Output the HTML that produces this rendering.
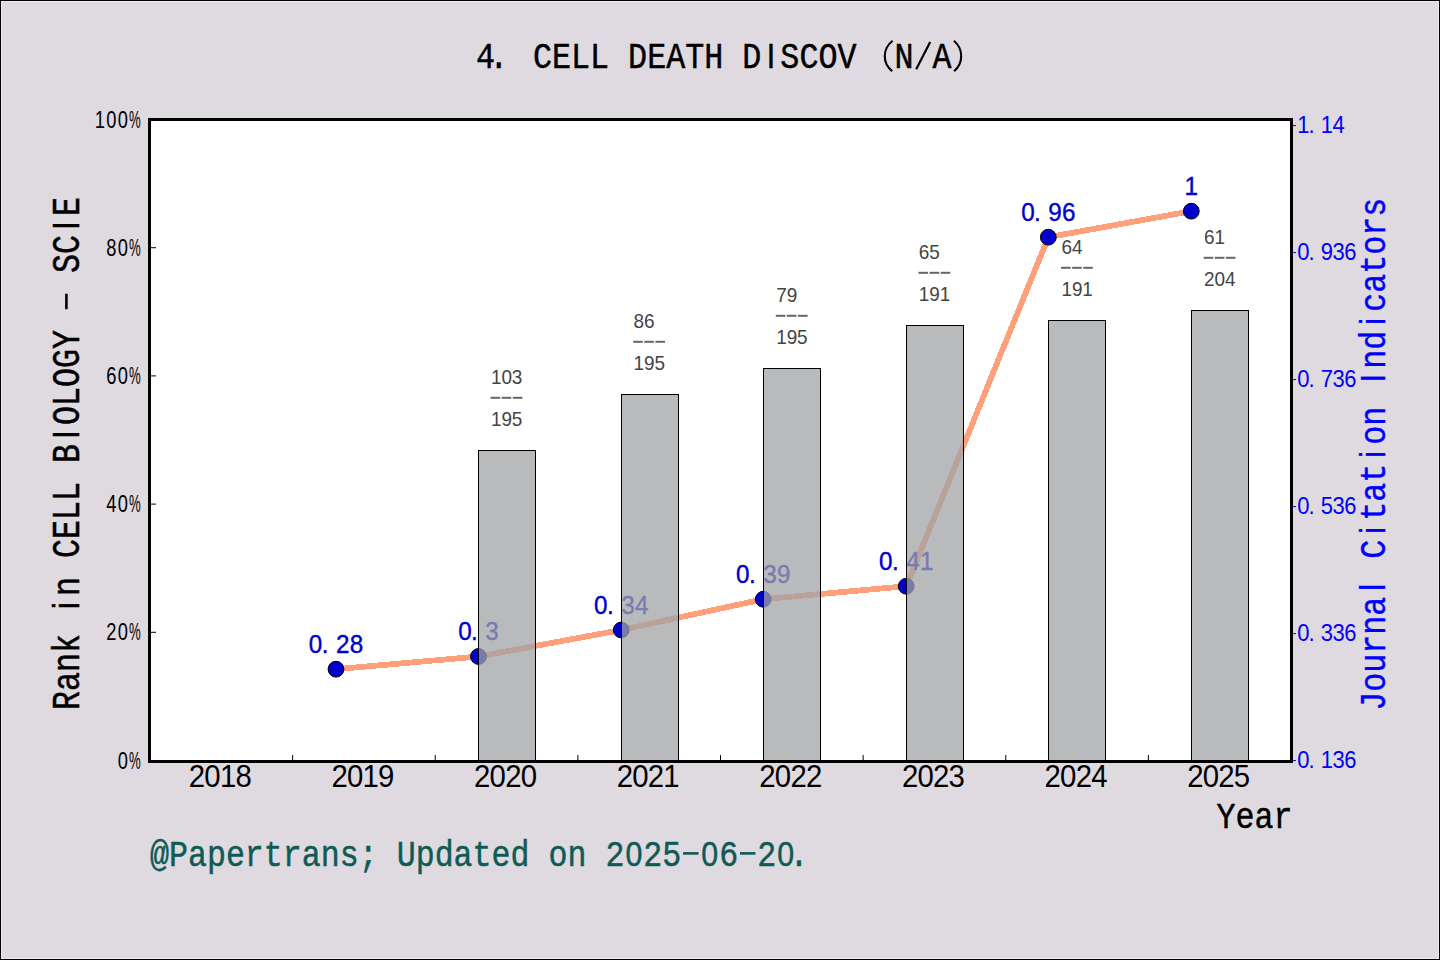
<!DOCTYPE html><html><head><meta charset="utf-8"><style>html,body{margin:0;padding:0;background:#dfdae0;}svg{display:block;}text{font-family:"Liberation Sans", sans-serif;}</style></head><body>
<svg width="1440" height="960" viewBox="0 0 1440 960">
<rect x="0" y="0" width="1440" height="960" fill="#dfdae0"/>
<rect x="0.5" y="0.5" width="1439" height="959" fill="none" stroke="#000" stroke-width="1"/>
<rect x="1.5" y="1.5" width="1437" height="957" fill="none" stroke="#ece8ee" stroke-width="1"/>
<g transform="translate(475.90,68.30) scale(0.8544,1)">
<text x="11.14 26.73 77.95 100.23 122.50 144.77 189.32 211.59 233.86 256.14 278.41 322.95 367.50 389.77 412.05 434.32 501.14 545.68" y="0" font-size="37.12" fill="#000" text-anchor="middle" style="font-family:&quot;Liberation Mono&quot;" stroke="#000" stroke-width="0.50" >4.CELLDEATHDSCOVNA</text>
<text x="345.23" y="0" font-size="35.64" fill="#000" text-anchor="middle" style="font-family:&quot;Liberation Sans&quot;" stroke="#000" stroke-width="0.50" >I</text>
</g>
<path d="M 916.2 69.3 L 930.2 42.0" fill="none" stroke="#000" stroke-width="2.2"/>
<path d="M 892.6 40.8 C 882.2 49 882.2 63 892.2 71.2" fill="none" stroke="#000" stroke-width="2.1"/>
<path d="M 953.9 40.8 C 963.6 49 963.6 63 954.1 71.2" fill="none" stroke="#000" stroke-width="2.1"/>
<rect x="148" y="118" width="1145" height="645" fill="#fff"/>
<polyline points="336.00,669.20 478.50,656.50 621.25,630.00 763.25,599.25 906.25,586.25 1048.30,237.20 1191.30,211.20" fill="none" stroke="#ffa07a" stroke-width="5.8" stroke-linejoin="round" stroke-linecap="round" shape-rendering="crispEdges"/>
<circle cx="336.00" cy="669.20" r="7.9" fill="#0000cc" stroke="#000" stroke-width="1"/>
<circle cx="478.50" cy="656.50" r="7.9" fill="#0000cc" stroke="#000" stroke-width="1"/>
<circle cx="621.25" cy="630.00" r="7.9" fill="#0000cc" stroke="#000" stroke-width="1"/>
<circle cx="763.25" cy="599.25" r="7.9" fill="#0000cc" stroke="#000" stroke-width="1"/>
<circle cx="906.25" cy="586.25" r="7.9" fill="#0000cc" stroke="#000" stroke-width="1"/>
<circle cx="1048.30" cy="237.20" r="7.9" fill="#0000cc" stroke="#000" stroke-width="1"/>
<circle cx="1191.30" cy="211.20" r="7.9" fill="#0000cc" stroke="#000" stroke-width="1"/>
<g transform="translate(308.80,653.10) scale(0.9200,1)">
<text x="7.39 17.74 36.96 51.74" y="0" font-size="26.40" fill="#0000cc" text-anchor="middle" stroke="#0000cc" stroke-width="0.40" >0.28</text>
</g>
<g transform="translate(458.10,640.40) scale(0.9200,1)">
<text x="7.39 17.74 36.96" y="0" font-size="26.40" fill="#0000cc" text-anchor="middle" stroke="#0000cc" stroke-width="0.40" >0.3</text>
</g>
<g transform="translate(594.05,613.90) scale(0.9200,1)">
<text x="7.39 17.74 36.96 51.74" y="0" font-size="26.40" fill="#0000cc" text-anchor="middle" stroke="#0000cc" stroke-width="0.40" >0.34</text>
</g>
<g transform="translate(736.05,583.15) scale(0.9200,1)">
<text x="7.39 17.74 36.96 51.74" y="0" font-size="26.40" fill="#0000cc" text-anchor="middle" stroke="#0000cc" stroke-width="0.40" >0.39</text>
</g>
<g transform="translate(879.05,570.15) scale(0.9200,1)">
<text x="7.39 17.74 36.96 51.74" y="0" font-size="26.40" fill="#0000cc" text-anchor="middle" stroke="#0000cc" stroke-width="0.40" >0.41</text>
</g>
<g transform="translate(1021.10,221.10) scale(0.9200,1)">
<text x="7.39 17.74 36.96 51.74" y="0" font-size="26.40" fill="#0000cc" text-anchor="middle" stroke="#0000cc" stroke-width="0.40" >0.96</text>
</g>
<g transform="translate(1184.50,195.10) scale(0.9200,1)">
<text x="7.39" y="0" font-size="26.40" fill="#0000cc" text-anchor="middle" stroke="#0000cc" stroke-width="0.40" >1</text>
</g>
<rect x="478.50" y="450.50" width="57" height="310.00" fill="rgb(162,163,166)" fill-opacity="0.75" stroke="#000" stroke-width="1"/>
<rect x="621.50" y="394.50" width="57" height="366.00" fill="rgb(162,163,166)" fill-opacity="0.75" stroke="#000" stroke-width="1"/>
<rect x="763.50" y="368.50" width="57" height="392.00" fill="rgb(162,163,166)" fill-opacity="0.75" stroke="#000" stroke-width="1"/>
<rect x="906.50" y="325.50" width="57" height="435.00" fill="rgb(162,163,166)" fill-opacity="0.75" stroke="#000" stroke-width="1"/>
<rect x="1048.50" y="320.50" width="57" height="440.00" fill="rgb(162,163,166)" fill-opacity="0.75" stroke="#000" stroke-width="1"/>
<rect x="1191.50" y="310.50" width="57" height="450.00" fill="rgb(162,163,166)" fill-opacity="0.75" stroke="#000" stroke-width="1"/>
<g transform="translate(491.06,384.00) scale(0.9200,1)">
<text x="5.65 16.96 28.26" y="0" font-size="20.60" fill="#444" text-anchor="middle" >103</text>
</g>
<rect x="490.56" y="396.80" width="9.6" height="2" fill="#666"/>
<rect x="501.66" y="396.80" width="9.6" height="2" fill="#666"/>
<rect x="512.76" y="396.80" width="9.6" height="2" fill="#666"/>
<g transform="translate(491.06,426.00) scale(0.9200,1)">
<text x="5.65 16.96 28.26" y="0" font-size="20.60" fill="#444" text-anchor="middle" >195</text>
</g>
<g transform="translate(633.69,328.00) scale(0.9200,1)">
<text x="5.65 16.96" y="0" font-size="20.60" fill="#444" text-anchor="middle" >86</text>
</g>
<rect x="633.19" y="340.80" width="9.6" height="2" fill="#666"/>
<rect x="644.29" y="340.80" width="9.6" height="2" fill="#666"/>
<rect x="655.39" y="340.80" width="9.6" height="2" fill="#666"/>
<g transform="translate(633.69,370.00) scale(0.9200,1)">
<text x="5.65 16.96 28.26" y="0" font-size="20.60" fill="#444" text-anchor="middle" >195</text>
</g>
<g transform="translate(776.31,302.00) scale(0.9200,1)">
<text x="5.65 16.96" y="0" font-size="20.60" fill="#444" text-anchor="middle" >79</text>
</g>
<rect x="775.81" y="314.80" width="9.6" height="2" fill="#666"/>
<rect x="786.91" y="314.80" width="9.6" height="2" fill="#666"/>
<rect x="798.01" y="314.80" width="9.6" height="2" fill="#666"/>
<g transform="translate(776.31,344.00) scale(0.9200,1)">
<text x="5.65 16.96 28.26" y="0" font-size="20.60" fill="#444" text-anchor="middle" >195</text>
</g>
<g transform="translate(918.94,259.00) scale(0.9200,1)">
<text x="5.65 16.96" y="0" font-size="20.60" fill="#444" text-anchor="middle" >65</text>
</g>
<rect x="918.44" y="271.80" width="9.6" height="2" fill="#666"/>
<rect x="929.54" y="271.80" width="9.6" height="2" fill="#666"/>
<rect x="940.64" y="271.80" width="9.6" height="2" fill="#666"/>
<g transform="translate(918.94,301.00) scale(0.9200,1)">
<text x="5.65 16.96 28.26" y="0" font-size="20.60" fill="#444" text-anchor="middle" >191</text>
</g>
<g transform="translate(1061.56,254.00) scale(0.9200,1)">
<text x="5.65 16.96" y="0" font-size="20.60" fill="#444" text-anchor="middle" >64</text>
</g>
<rect x="1061.06" y="266.80" width="9.6" height="2" fill="#666"/>
<rect x="1072.16" y="266.80" width="9.6" height="2" fill="#666"/>
<rect x="1083.26" y="266.80" width="9.6" height="2" fill="#666"/>
<g transform="translate(1061.56,296.00) scale(0.9200,1)">
<text x="5.65 16.96 28.26" y="0" font-size="20.60" fill="#444" text-anchor="middle" >191</text>
</g>
<g transform="translate(1204.19,244.00) scale(0.9200,1)">
<text x="5.65 16.96" y="0" font-size="20.60" fill="#444" text-anchor="middle" >61</text>
</g>
<rect x="1203.69" y="256.80" width="9.6" height="2" fill="#666"/>
<rect x="1214.79" y="256.80" width="9.6" height="2" fill="#666"/>
<rect x="1225.89" y="256.80" width="9.6" height="2" fill="#666"/>
<g transform="translate(1204.19,286.00) scale(0.9200,1)">
<text x="5.65 16.96 28.26" y="0" font-size="20.60" fill="#444" text-anchor="middle" >204</text>
</g>
<rect x="149.5" y="119.5" width="1142" height="642" fill="none" stroke="#000" stroke-width="3"/>
<rect x="151" y="760.00" width="5" height="1" fill="#000"/>
<g transform="translate(117.00,768.50) scale(0.7800,1)">
<text x="7.37" y="0" font-size="23.50" fill="#000" text-anchor="middle" >0</text>
</g>
<g transform="translate(129.10,768.50) scale(0.5600,1)">
<text x="10.27" y="0" font-size="23.50" fill="#000" text-anchor="middle" >%</text>
</g>
<rect x="151" y="631.80" width="5" height="1" fill="#000"/>
<g transform="translate(105.50,640.30) scale(0.7800,1)">
<text x="7.37 22.12" y="0" font-size="23.50" fill="#000" text-anchor="middle" >20</text>
</g>
<g transform="translate(129.10,640.30) scale(0.5600,1)">
<text x="10.27" y="0" font-size="23.50" fill="#000" text-anchor="middle" >%</text>
</g>
<rect x="151" y="503.60" width="5" height="1" fill="#000"/>
<g transform="translate(105.50,512.10) scale(0.7800,1)">
<text x="7.37 22.12" y="0" font-size="23.50" fill="#000" text-anchor="middle" >40</text>
</g>
<g transform="translate(129.10,512.10) scale(0.5600,1)">
<text x="10.27" y="0" font-size="23.50" fill="#000" text-anchor="middle" >%</text>
</g>
<rect x="151" y="375.40" width="5" height="1" fill="#000"/>
<g transform="translate(105.50,383.90) scale(0.7800,1)">
<text x="7.37 22.12" y="0" font-size="23.50" fill="#000" text-anchor="middle" >60</text>
</g>
<g transform="translate(129.10,383.90) scale(0.5600,1)">
<text x="10.27" y="0" font-size="23.50" fill="#000" text-anchor="middle" >%</text>
</g>
<rect x="151" y="247.20" width="5" height="1" fill="#000"/>
<g transform="translate(105.50,255.70) scale(0.7800,1)">
<text x="7.37 22.12" y="0" font-size="23.50" fill="#000" text-anchor="middle" >80</text>
</g>
<g transform="translate(129.10,255.70) scale(0.5600,1)">
<text x="10.27" y="0" font-size="23.50" fill="#000" text-anchor="middle" >%</text>
</g>
<rect x="151" y="119.00" width="5" height="1" fill="#000"/>
<g transform="translate(94.00,127.50) scale(0.7800,1)">
<text x="7.37 22.12 36.86" y="0" font-size="23.50" fill="#000" text-anchor="middle" >100</text>
</g>
<g transform="translate(129.10,127.50) scale(0.5600,1)">
<text x="10.27" y="0" font-size="23.50" fill="#000" text-anchor="middle" >%</text>
</g>
<rect x="292.12" y="755" width="1" height="5" fill="#000"/>
<rect x="434.75" y="755" width="1" height="5" fill="#000"/>
<rect x="577.38" y="755" width="1" height="5" fill="#000"/>
<rect x="720.00" y="755" width="1" height="5" fill="#000"/>
<rect x="862.62" y="755" width="1" height="5" fill="#000"/>
<rect x="1005.25" y="755" width="1" height="5" fill="#000"/>
<rect x="1147.88" y="755" width="1" height="5" fill="#000"/>
<g transform="translate(189.21,786.80) scale(0.9600,1)">
<text x="8.10 24.30 40.49 56.69" y="0" font-size="30.60" fill="#000" text-anchor="middle" >2018</text>
</g>
<g transform="translate(331.84,786.80) scale(0.9600,1)">
<text x="8.10 24.30 40.49 56.69" y="0" font-size="30.60" fill="#000" text-anchor="middle" >2019</text>
</g>
<g transform="translate(474.46,786.80) scale(0.9600,1)">
<text x="8.10 24.30 40.49 56.69" y="0" font-size="30.60" fill="#000" text-anchor="middle" >2020</text>
</g>
<g transform="translate(617.09,786.80) scale(0.9600,1)">
<text x="8.10 24.30 40.49 56.69" y="0" font-size="30.60" fill="#000" text-anchor="middle" >2021</text>
</g>
<g transform="translate(759.71,786.80) scale(0.9600,1)">
<text x="8.10 24.30 40.49 56.69" y="0" font-size="30.60" fill="#000" text-anchor="middle" >2022</text>
</g>
<g transform="translate(902.34,786.80) scale(0.9600,1)">
<text x="8.10 24.30 40.49 56.69" y="0" font-size="30.60" fill="#000" text-anchor="middle" >2023</text>
</g>
<g transform="translate(1044.96,786.80) scale(0.9600,1)">
<text x="8.10 24.30 40.49 56.69" y="0" font-size="30.60" fill="#000" text-anchor="middle" >2024</text>
</g>
<g transform="translate(1187.59,786.80) scale(0.9600,1)">
<text x="8.10 24.30 40.49 56.69" y="0" font-size="30.60" fill="#000" text-anchor="middle" >2025</text>
</g>
<rect x="1293" y="760.10" width="3" height="1" fill="#0000ff"/>
<g transform="translate(1297.60,768.00) scale(0.9200,1)">
<text x="6.36 15.26 31.79 44.51 57.23" y="0" font-size="23.90" fill="#0000ff" text-anchor="middle" >0.136</text>
</g>
<rect x="1293" y="633.10" width="3" height="1" fill="#0000ff"/>
<g transform="translate(1297.60,641.00) scale(0.9200,1)">
<text x="6.36 15.26 31.79 44.51 57.23" y="0" font-size="23.90" fill="#0000ff" text-anchor="middle" >0.336</text>
</g>
<rect x="1293" y="506.10" width="3" height="1" fill="#0000ff"/>
<g transform="translate(1297.60,514.00) scale(0.9200,1)">
<text x="6.36 15.26 31.79 44.51 57.23" y="0" font-size="23.90" fill="#0000ff" text-anchor="middle" >0.536</text>
</g>
<rect x="1293" y="379.10" width="3" height="1" fill="#0000ff"/>
<g transform="translate(1297.60,387.00) scale(0.9200,1)">
<text x="6.36 15.26 31.79 44.51 57.23" y="0" font-size="23.90" fill="#0000ff" text-anchor="middle" >0.736</text>
</g>
<rect x="1293" y="252.10" width="3" height="1" fill="#0000ff"/>
<g transform="translate(1297.60,260.00) scale(0.9200,1)">
<text x="6.36 15.26 31.79 44.51 57.23" y="0" font-size="23.90" fill="#0000ff" text-anchor="middle" >0.936</text>
</g>
<rect x="1293" y="125.10" width="3" height="1" fill="#0000ff"/>
<g transform="translate(1297.60,133.00) scale(0.9200,1)">
<text x="6.36 15.26 31.79 44.51" y="0" font-size="23.90" fill="#0000ff" text-anchor="middle" >1.14</text>
</g>
<g transform="translate(79.00,710.00) rotate(-90) scale(0.8360,1)">
<text x="11.36 34.09 56.82 79.55 147.73 193.18 215.91 238.64 261.36 306.82 352.27 375.00 397.73 420.45 443.18 534.09 556.82 602.27" y="0" font-size="37.88" fill="#000" text-anchor="middle" style="font-family:&quot;Liberation Mono&quot;" stroke="#000" stroke-width="0.50" >RanknCELLBOLOGYSCE</text>
<text x="125.00 329.55 579.55" y="0" font-size="36.36" fill="#000" text-anchor="middle" style="font-family:&quot;Liberation Sans&quot;" stroke="#000" stroke-width="0.50" >iII</text>
<rect x="479.37" y="-13.90" width="18.54" height="2.60" fill="#000"/>
</g>
<g transform="translate(1384.70,710.80) rotate(-90) scale(0.8496,1)">
<text x="11.18 33.55 55.91 78.27 100.64 123.00 190.09 234.82 257.18 279.55 324.27 346.64 413.73 436.09 480.82 503.18 525.55 547.91 570.27 592.64" y="0" font-size="37.27" fill="#0000ff" text-anchor="middle" style="font-family:&quot;Liberation Mono&quot;" stroke="#0000ff" stroke-width="0.40" >JournaCtatonndcators</text>
<text x="145.36 212.45 301.91 391.36 458.45" y="0" font-size="35.78" fill="#0000ff" text-anchor="middle" style="font-family:&quot;Liberation Sans&quot;" stroke="#0000ff" stroke-width="0.40" >liiIi</text>
</g>
<g transform="translate(1216.50,828.00) scale(0.8636,1)">
<text x="11.00 33.00 55.00 77.00" y="0" font-size="36.67" fill="#000" text-anchor="middle" style="font-family:&quot;Liberation Mono&quot;" stroke="#000" stroke-width="0.50" >Year</text>
</g>
<g transform="translate(150.00,866.00) scale(0.8485,1)">
<text x="11.18 33.55 55.91 78.27 100.64 123.00 145.36 167.73 190.09 212.45 234.82 257.18 301.91 324.27 346.64 369.00 391.36 413.73 436.09 480.82 503.18 547.91 592.64 615.00 682.09 726.82 764.84" y="0" font-size="37.27" fill="#0f5a55" text-anchor="middle" style="font-family:&quot;Liberation Mono&quot;" stroke="#0f5a55" stroke-width="0.50" >@Papertrans;Updatedon22562.</text>
<text x="570.27 659.73 749.18" y="0" font-size="35.78" fill="#0f5a55" text-anchor="middle" style="font-family:&quot;Liberation Sans&quot;" stroke="#0f5a55" stroke-width="0.50" >000</text>
<rect x="628.23" y="-13.90" width="18.27" height="2.60" fill="#0f5a55"/>
<rect x="695.32" y="-13.90" width="18.27" height="2.60" fill="#0f5a55"/>
</g>
</svg></body></html>
